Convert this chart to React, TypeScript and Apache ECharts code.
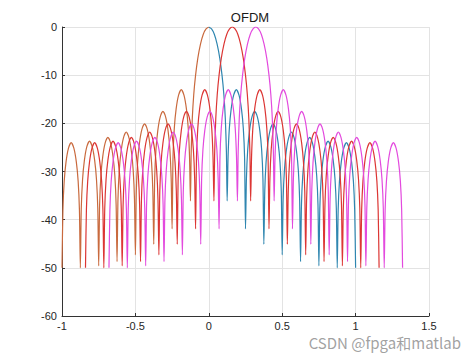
import React, { useEffect, useRef } from "react";
import * as echarts from "echarts";

// Spectrum lobes (dB)
const curveCenters = [0, 0.16, 0.32];
const nullSpacing = 0.125;
const sidelobePeakDb = [-13.0, -17.5, -20.1, -21.8, -22.9, -23.7, -24.0];
const nullDepthDb = [-36.1, -41.9, -45.1, -47.3, -48.7, -49.6, -50, -50];
// main-lobe shape: distance from centre (fraction of half width) and level
const mainLobeOffsets = [0.96, 0.9, 0.82, 0.72, 0.6, 0.45, 0.3, 0.15, 0];
const mainLobeDb = [-26, -19, -14, -10, -6.5, -3.5, -1.5, -0.4, 0];
// side-lobe shape: position within lobe (fraction) and drop below lobe peak
const sidelobeOffsets = [0.05, 0.12, 0.22, 0.35, 0.5, 0.65, 0.78, 0.88, 0.95];
const sidelobeDropDb = [-14, -8, -4, -1.2, 0, -1.2, -4, -8, -14];

const xTicks = ["-1", "-0.5", "0", "0.5", "1", "1.5"];
const yTicks = ["-60", "-50", "-40", "-30", "-20", "-10", "0"];

function buildCurve(x0: number): number[][] {
  const s = nullSpacing;
  const n = sidelobePeakDb.length;
  const pts: number[][] = [];
  pts.push([x0 - (n + 1) * s, nullDepthDb[n]]);
  for (let j = n; j >= 1; j--) {
    const left = x0 - (j + 1) * s;
    sidelobeOffsets.forEach((f, i) => pts.push([left + f * s, sidelobePeakDb[j - 1] + sidelobeDropDb[i]]));
    pts.push([x0 - j * s, nullDepthDb[j - 1]]);
  }
  mainLobeOffsets.forEach((o, i) => pts.push([x0 - o * s, mainLobeDb[i]]));
  for (let i = mainLobeOffsets.length - 2; i >= 0; i--) pts.push([x0 + mainLobeOffsets[i] * s, mainLobeDb[i]]);
  pts.push([x0 + s, nullDepthDb[0]]);
  for (let j = 1; j <= n; j++) {
    const left = x0 + j * s;
    sidelobeOffsets.forEach((f, i) => pts.push([left + f * s, sidelobePeakDb[j - 1] + sidelobeDropDb[i]]));
    pts.push([x0 + (j + 1) * s, nullDepthDb[j]]);
  }
  return pts;
}

export default function App() {
  const ref = useRef<HTMLDivElement>(null);
  useEffect(() => {
    if (!ref.current) return;
    const chart = echarts.init(ref.current, null, { renderer: "svg" });
    const a = buildCurve(curveCenters[0]);
    const orange = a.filter((p) => p[0] <= curveCenters[0]);
    const blue = a.filter((p) => p[0] >= curveCenters[0]);
    const red = buildCurve(curveCenters[1]);
    const magenta = buildCurve(curveCenters[2]);
    const mk = (data: number[][], color: string) => ({
      type: "line",
      data,
      showSymbol: false,
      smooth: 0.25,
      lineStyle: { color, width: 1.2 },
      itemStyle: { color },
    });
    const font = "'Liberation Sans', Arial, sans-serif";
    chart.setOption({
      animation: false,
      backgroundColor: "#ffffff",
      title: {
        text: "OFDM",
        left: 245,
        top: 6,
        textAlign: "center",
        textStyle: { fontSize: 13, fontWeight: "normal", color: "#1a1a1a", fontFamily: font },
      },
      grid: { left: 62, right: 45, top: 27, bottom: 39, containLabel: false },
      xAxis: {
        type: "value",
        min: -1,
        max: 1.5,
        interval: 0.5,
        axisLine: { onZero: false, lineStyle: { color: "#333333", width: 1 } },
        axisTick: { show: true, inside: true, length: 3, lineStyle: { color: "#333333" } },
        axisLabel: {
          color: "#262626",
          fontSize: 11,
          fontFamily: font,
          margin: 4,
          formatter: (v: number) => xTicks[Math.round((v + 1) / 0.5)] ?? String(v),
        },
        splitLine: { show: true, lineStyle: { color: "#e3e3e3", width: 1 } },
      },
      yAxis: {
        type: "value",
        min: -60,
        max: 0,
        interval: 10,
        axisLine: { show: true, onZero: false, lineStyle: { color: "#333333", width: 1 } },
        axisTick: { show: true, inside: true, length: 3, lineStyle: { color: "#333333" } },
        axisLabel: {
          color: "#262626",
          fontSize: 11,
          fontFamily: font,
          margin: 5,
          formatter: (v: number) => yTicks[Math.round((v + 60) / 10)] ?? String(v),
        },
        splitLine: { show: true, lineStyle: { color: "#e3e3e3", width: 1 } },
      },
      series: [
        mk(orange, "#c96a3e"),
        mk(blue, "#2f86b0"),
        mk(red, "#dc3634"),
        mk(magenta, "#e34ade"),
      ],
      graphic: [
        {
          type: "text",
          right: 13,
          top: 335,
          style: {
            text: "CSDN @fpga和matlab",
            fontSize: 15,
            fontFamily: "'Noto Sans CJK SC', 'Noto Sans', sans-serif",
            fill: "rgba(130,130,130,0.75)",
          },
        },
      ],
    });
    return () => chart.dispose();
  }, []);
  return <div ref={ref} style={{ position: "fixed", left: 0, top: 0, width: 474, height: 355 }} />;
}
